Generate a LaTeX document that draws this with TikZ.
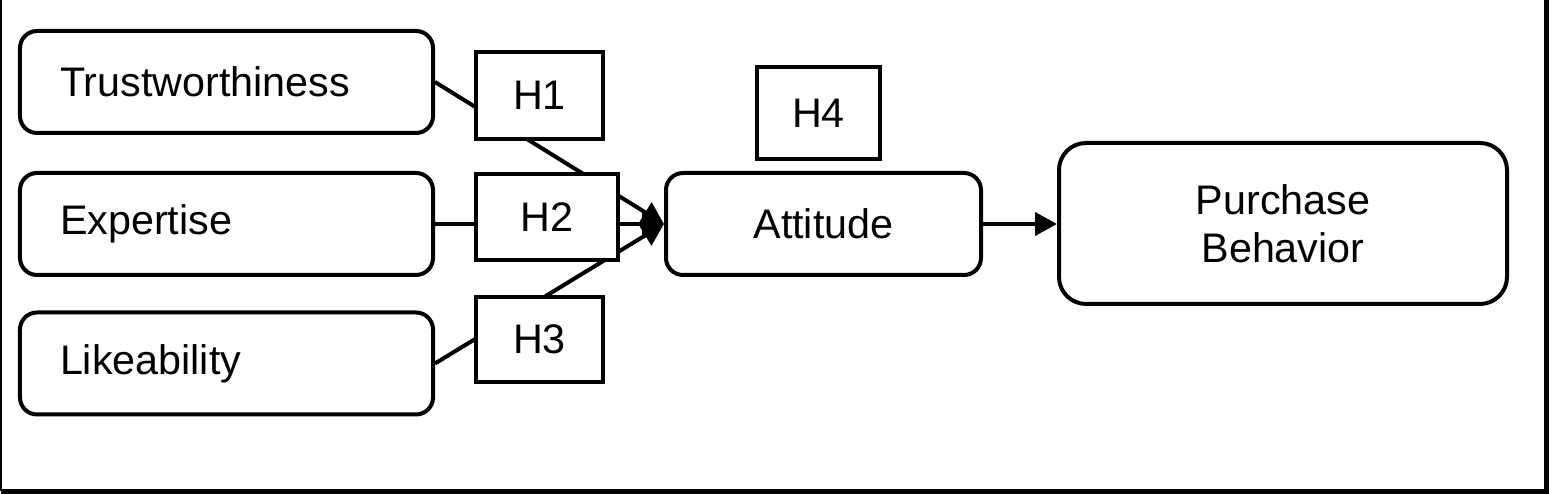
\documentclass[tikz,border=0pt]{standalone}
\usepackage{fontspec}
\setmainfont{Liberation Sans}
\usepackage{tikz}
\usetikzlibrary{arrows.meta}

\tikzset{
	factor/.style   = {draw, line width=0.08cm, rounded corners=0.34cm,
	                   minimum height=2.04cm, text width=6.66cm, inner xsep=0.8cm, align=left},
	construct/.style= {draw, line width=0.08cm, rounded corners=0.34cm,
	                   minimum height=2.04cm, minimum width=6.30cm, align=center},
	hyp/.style      = {draw, fill=white, line width=0.08cm, minimum height=1.74cm, inner sep=0pt},
	link/.style     = {line width=0.08cm, -{Triangle[length=0.44cm,width=0.46cm]}}
}

\begin{document}
\begin{tikzpicture}[font=\fontsize{23.5}{27.3}\selectfont]
	\useasboundingbox (0,0) rectangle (31.16,9.88);
	% frame
	\draw[line width=0.04cm] (0.02,9.88) -- (0.02,0.05);
	\draw[line width=0.10cm] (0.02,0.05) -- (30.93,0.05) -- (30.93,9.88);

	\node[factor] (trust) at (4.53,8.24) {Trustworthiness};
	\node[factor] (exp)   at (4.53,5.40) {Expertise};
	\node[factor] (like)  at (4.53,2.61) {Likeability};
	\node[construct] (att) at (16.47,5.40) {Attitude};
	\node[construct, minimum width=8.96cm, minimum height=3.22cm,
	      rounded corners=0.54cm] (pb) at (25.66,5.41) {Purchase\\Behavior};

	\draw[link] (trust.east) -- (att.west);
	\draw[link] (exp.east)   -- (att.west);
	\draw[link] (like.east)  -- (att.west);
	\draw[link] (att.east)   -- (att.east -| pb.west);

	\node[hyp, minimum width=2.54cm] (h1) at (10.79,7.97) {H1};
	\node[hyp, minimum width=2.84cm, minimum height=1.72cm] (h2) at (10.94,5.54) {H2};
	\node[hyp, minimum width=2.54cm, minimum height=1.70cm] (h3) at (10.79,3.09) {H3};
	\node[hyp, minimum width=2.46cm, minimum height=1.84cm] (h4) at (16.37,7.62) {H4};
\end{tikzpicture}
\end{document}
